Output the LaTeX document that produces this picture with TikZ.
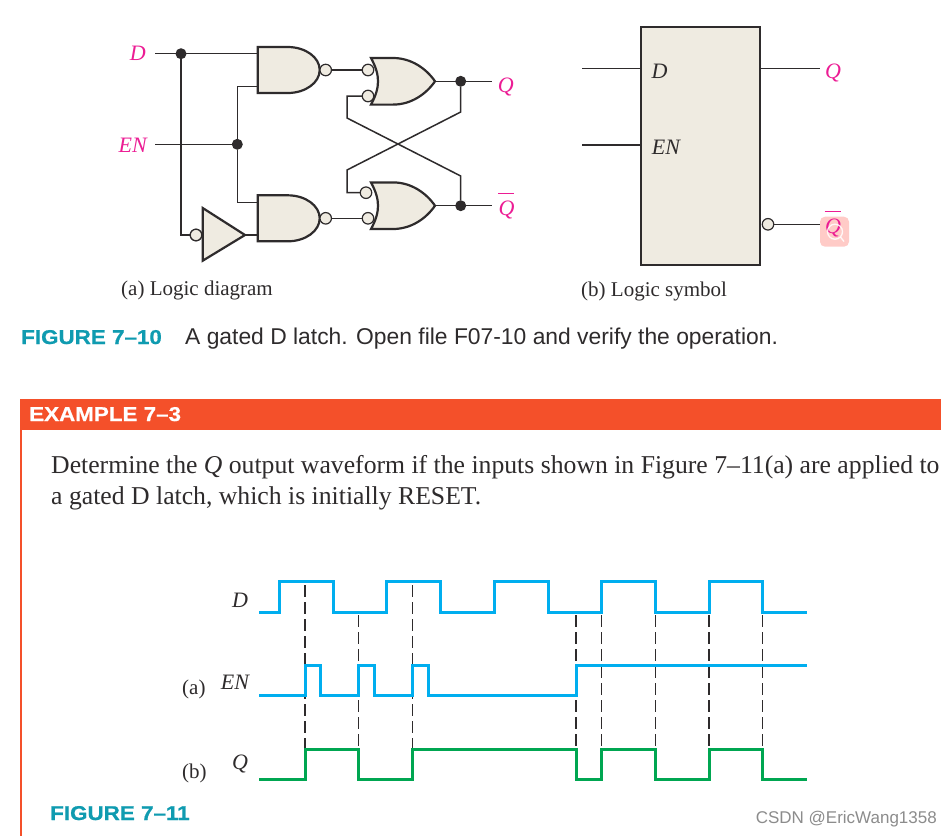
\documentclass[tikz,border=0pt]{standalone}
\usepackage{fontspec}
\setmainfont{Liberation Serif}
\setsansfont{Liberation Sans}
\newfontfamily\widebold[FakeStretch=1.12,FakeBold=0.6]{Liberation Sans Bold}
\usetikzlibrary{calc}
\definecolor{pinkl}{HTML}{EC1C94}
\definecolor{gatefill}{HTML}{EFEBE1}
\definecolor{inkc}{HTML}{2E2B2C}
\definecolor{tealc}{HTML}{0F9BB0}
\definecolor{orangec}{HTML}{F4502A}
\definecolor{bluew}{HTML}{00AEEF}
\definecolor{greenw}{HTML}{00A651}
\newcommand\Qb{\textit{Q}\llap{\raisebox{0.97em}{\rule{0.72em}{0.8pt}\hspace{0.02em}}}}
\tikzset{
  x=1pt,y=-1pt,
  wire/.style={draw=inkc,line width=1.5pt},
  gateshape/.style={draw=inkc,fill=gatefill,line width=2.2pt,line join=miter},
  bubble/.style={circle,draw=inkc,fill=gatefill,line width=1.2pt,minimum size=11.5pt,inner sep=0pt,outer sep=0pt},
  dotj/.style={circle,fill=inkc,minimum size=11pt,inner sep=0pt,outer sep=0pt},
  lab/.style={anchor=base,font=\fontsize{22}{24}\selectfont\itshape,text=inkc,inner sep=0pt},
  plab/.style={lab,text=pinkl},
  captxt/.style={anchor=base west,font=\fontsize{21}{24}\selectfont,text=inkc,inner sep=0pt},
  wave/.style={line width=3pt,line join=miter},
  guide/.style={draw=inkc,line width=1.1pt,dash pattern=on 11.5pt off 5.5pt},
  nandgate/.pic={
    \path[gateshape] (0,-23) -- (30,-23) .. controls (48,-23) and (62,-12.5) .. (62,0)
      .. controls (62,12.5) and (48,23) .. (30,23) -- (0,23) -- cycle;
    \node[bubble] (-o) at (68,0) {};
  },
  norgate/.pic={
    \path[gateshape] (0,-23.3) .. controls (5,-14) and (7,-7) .. (7,0) .. controls (7,7) and (5,14) .. (0,23.3)
      -- (22,23.3) .. controls (40,23.3) and (55,13) .. (64,0) .. controls (55,-13) and (40,-23.3) .. (22,-23.3) -- cycle;
    \coordinate (-o) at (64,0);
  },
}
\begin{document}
\begin{tikzpicture}
\useasboundingbox (0,0) rectangle (952,836);
\fill[white] (0,0) rectangle (952,836);

% ---- logic diagram coordinates
\coordinate (dIn) at (155,53.7);
\coordinate (enIn) at (155,144.3);
\coordinate (n1a) at (257.7,53.7);
\coordinate (n1b) at (257.7,86.7);
\coordinate (n2a) at (257.7,202.3);
\coordinate (n2b) at (257.7,235);
\coordinate (qEnd) at (491.7,81.3);
\coordinate (qbEnd) at (491.7,205.7);
\coordinate (fbA) at (347,96);
\coordinate (fbB) at (347,118);
\coordinate (fbC) at (460.7,176);
\coordinate (fbD) at (460.7,112);
\coordinate (fbE) at (347,170);
\coordinate (fbF) at (347,192.7);

% wires under the shapes
\node[dotj] (dDot) at (181,53.7) {};
\node[dotj] (enDot) at (237.3,144.3) {};
\node[dotj] (qDot) at (460.7,81.3) {};
\node[dotj] (qbDot) at (460.7,205.7) {};
\node[bubble] (invB) at (196,235) {};
\draw[wire] (dIn) -- (n1a);
\draw[wire] (enIn) -- (enDot);
\draw[wire] (dDot) |- (invB);
\draw[wire] (enDot) |- (n1b);
\draw[wire] (enDot) |- (n2a);
\draw[wire] (invB) -- (n2b);

\pic (n1) at (257.7,70) {nandgate};
\pic (n2) at (257.7,218.3) {nandgate};
\path[gateshape] (202.7,208) -- (245,235) -- (202.7,260.7) -- cycle;
\node[bubble] (invB2) at (196,235) {};

\pic (r1) at (371,81.3) {norgate};
\pic (r2) at (371,205.7) {norgate};
\node[bubble] (a1) at (368,70) {};
\node[bubble] (a2) at (368,96) {};
\node[bubble] (b1) at (366,192.7) {};
\node[bubble] (b2) at (368,218.3) {};

\draw[wire] (n1-o) -- (a1);
\draw[wire] (n2-o) -- (b2);
\draw[wire] (r1-o) -- (qEnd);
\draw[wire] (r2-o) -- (qbEnd);
\draw[wire] (a2) -- (fbA) -- (fbB) -- (fbC) -- (qbDot);
\draw[wire] (qDot) -- (fbD) -- (fbE) -- (fbF) -- (b1);

\node[plab] (lD) at (137.7,60.5) {D};
\node[plab] (lEN) at (132.7,152) {EN};
\node[plab] (lQ) at (505.7,92) {Q};
\node[plab] (lQb) at (506.5,215) {\Qb};
\node[captxt] (capa) at (121,295) {(a) Logic diagram};

% ---- logic symbol
\coordinate (sD) at (582,68.3);
\coordinate (sEN) at (582,145);
\coordinate (sDr) at (641.3,68.3);
\coordinate (sENr) at (641.3,145);
\coordinate (sQl) at (760.3,68.3);
\coordinate (sQr) at (820,68.3);
\coordinate (sBr) at (820,224.3);
\draw[wire] (sD) -- (sDr);
\draw[wire] (sEN) -- (sENr);
\draw[wire] (sQl) -- (sQr);
\path[gateshape] (641.3,27.3) rectangle (760.3,265);
\node[bubble] (sB) at (768,224.3) {};
\draw[wire] (sB) -- (sBr);
\node[lab] (sLD) at (659.5,78) {D};
\node[lab] (sLEN) at (666,154.5) {EN};
\node[plab] (sLQ) at (833,78) {Q};
\fill[red!85!orange,opacity=0.22,rounded corners=5pt] (820,216.7) rectangle (849,246.7);
\node[plab] (sLQb) at (833,233.5) {\Qb};
\draw[white,line width=1.3pt,opacity=.85] (835,231.7) circle[radius=7.5];
\draw[white,line width=1.3pt,opacity=.85] (840.5,237) -- (844,241.5);
\node[captxt] (capb) at (581,296) {(b) Logic symbol};

% ---- captions
\node[anchor=base west,inner sep=0pt,text=tealc,font=\fontsize{20}{24}\selectfont\widebold] (fig10) at (21,344) {FIGURE 7–10};
\node[anchor=base west,inner sep=0pt,text=inkc,font=\fontsize{22.85}{24}\selectfont\sffamily] (fig10t) at (185,344) {A gated D latch. Open file F07-10 and verify the operation.};

% ---- example
\fill[orangec] (20,399.3) rectangle (941,430);
\fill[orangec] (20,399.3) rectangle (22.2,836);
\node[anchor=base west,inner sep=0pt,text=white,font=\fontsize{20}{24}\selectfont\widebold] (ex) at (29,421) {EXAMPLE 7–3};
\node[anchor=base west,inner sep=0pt,text=inkc,font=\fontsize{25.7}{31}\selectfont] (body1) at (51,473) {Determine the \textit{Q} output waveform if the inputs shown in Figure 7–11(a) are applied to};
\node[anchor=base west,inner sep=0pt,text=inkc,font=\fontsize{25.7}{31}\selectfont] (body2) at (51,504) {a gated D latch, which is initially RESET.};

% ---- timing
\foreach \xx/\yy in {305/585,358.7/615,412.3/585,576/615,601.7/615,655.7/615,709/615,762.7/615}
  \draw[guide] (\xx,\yy) -- (\xx,749);
\draw[wave,bluew] (259,612.3) -| (279.3,581.7) -| (333.3,612.3) -| (386.7,581.7) -| (440.7,612.3) -| (494,581.7) -| (548.3,612.3) -| (601.7,581.7) -| (655.7,612.3) -| (709,581.7) -| (762.7,612.3) -- (806.7,612.3);
\draw[wave,bluew] (259,695.3) -| (305,665) -| (320.7,695.3) -| (358.7,665) -| (374.3,695.3) -| (412.3,665) -| (428.3,695.3) -| (576,665) -- (806.7,665);
\draw[wave,greenw] (259,779.3) -| (305,749) -| (358.7,779.3) -| (412.3,749) -| (576,779.3) -| (601.7,749) -| (655.7,779.3) -| (709,749) -| (762.7,779.3) -- (806.7,779.3);
\node[lab] (tD) at (240,607) {D};
\node[lab] (tEN) at (235,689) {EN};
\node[lab] (tQ) at (240,769) {Q};
\node[captxt] (ta) at (182,694) {(a)};
\node[captxt] (tb) at (182,778.5) {(b)};
\node[anchor=base west,inner sep=0pt,text=tealc,font=\fontsize{20}{24}\selectfont\widebold] (fig11) at (50,820) {FIGURE 7–11};
\node[anchor=base east,inner sep=0pt,text=black!45,font=\fontsize{17}{20}\selectfont\sffamily] (wm) at (937,823) {CSDN @EricWang1358};
\end{tikzpicture}
\end{document}
